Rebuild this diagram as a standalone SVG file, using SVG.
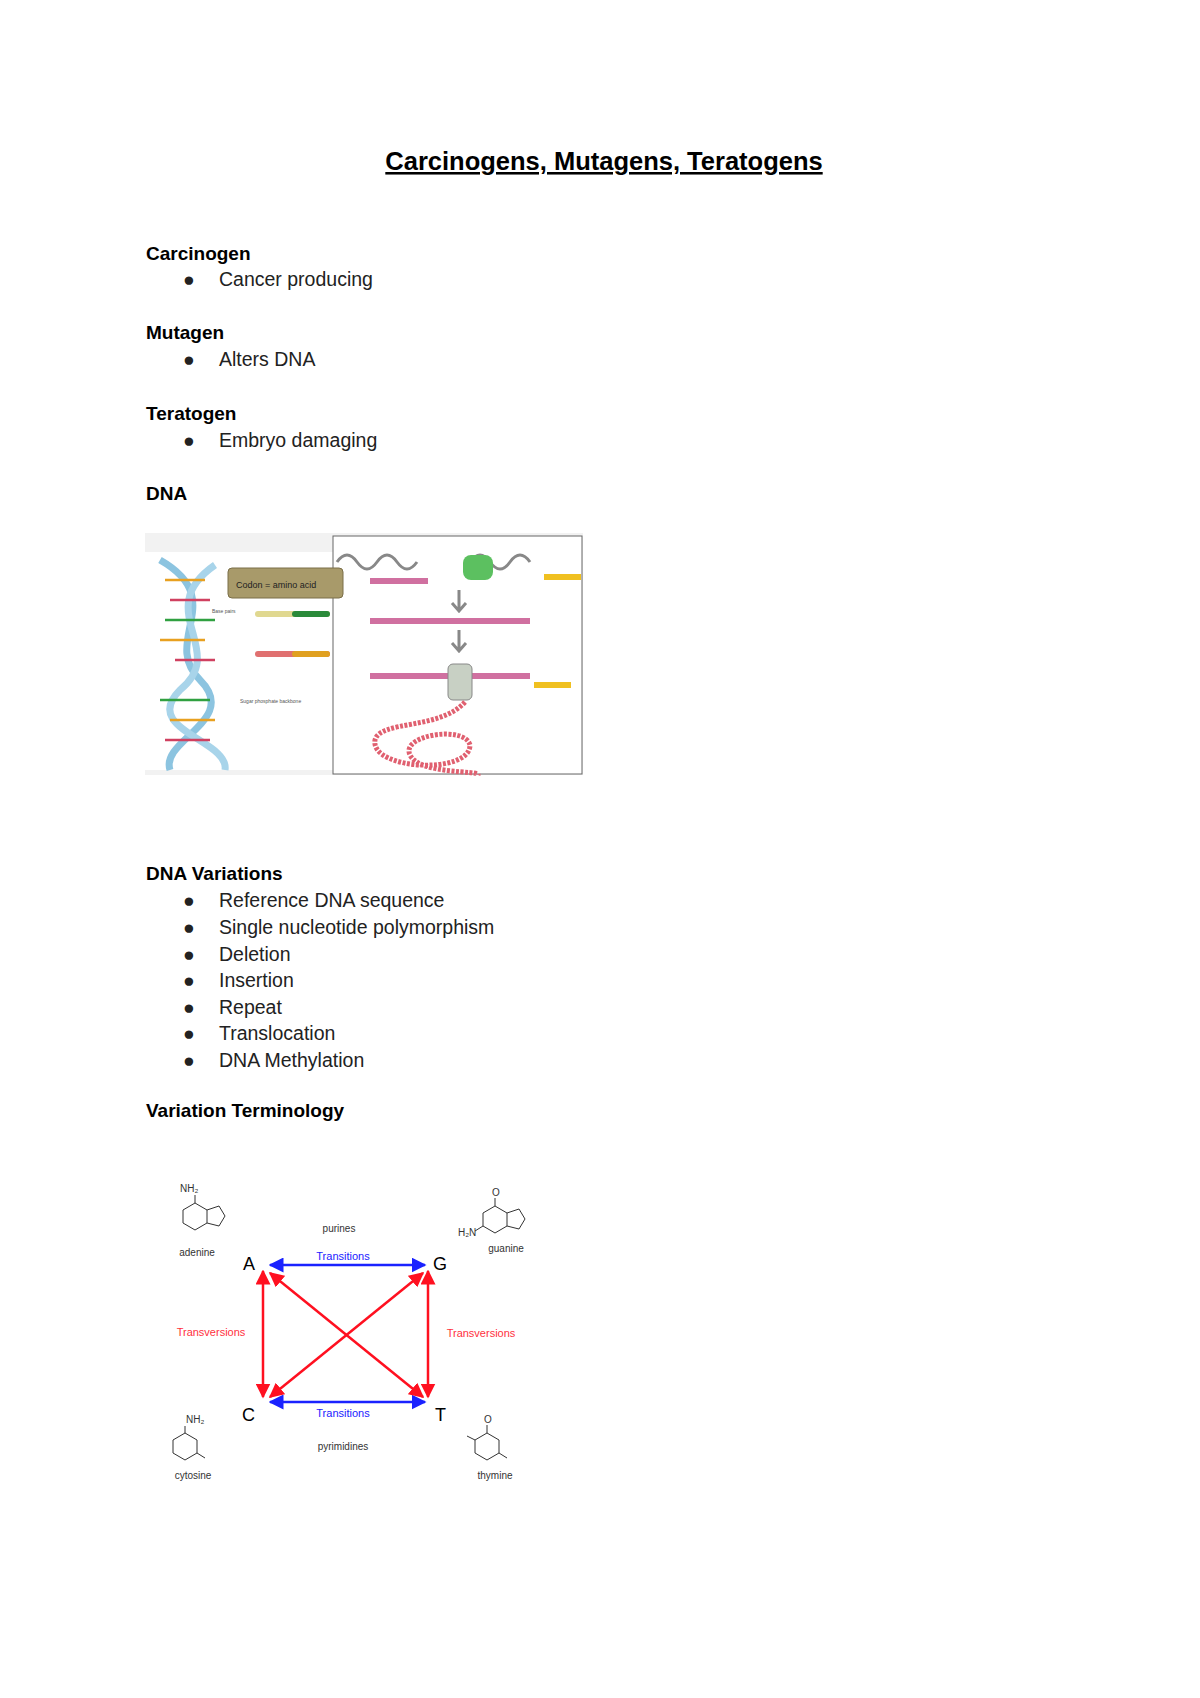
<svg xmlns="http://www.w3.org/2000/svg" width="1200" height="1698" viewBox="0 0 1200 1698">
<defs>
<style>
text{font-family:"Liberation Sans",Arial,sans-serif;fill:#000}
.h{font-weight:bold;font-size:19px}
.b{font-size:19.5px;fill:#222}
.s{font-size:10px;fill:#333}
.bl{stroke:#1a22ff;stroke-width:2.5;fill:none}
.rd{stroke:#ff1020;stroke-width:2.5;fill:none}
.tiny{font-size:5px;fill:#555}
</style>
<marker id="ab" viewBox="0 0 10 10" refX="9" refY="5" markerWidth="6" markerHeight="6" orient="auto-start-reverse"><path d="M0,0 L10,5 L0,10 z" fill="#1a22ff"/></marker>
<marker id="ar" viewBox="0 0 10 10" refX="9" refY="5" markerWidth="6" markerHeight="6" orient="auto-start-reverse"><path d="M0,0 L10,5 L0,10 z" fill="#ff1020"/></marker>
</defs>
<rect width="1200" height="1698" fill="#fff"/>
<text x="604" y="170" text-anchor="middle" style="font-weight:bold;font-size:25.5px;text-decoration:underline">Carcinogens, Mutagens, Teratogens</text>
<text class="h" x="146" y="260">Carcinogen</text>
<text class="b" x="183" y="286">●</text><text class="b" x="219" y="286">Cancer producing</text>
<text class="h" x="146" y="339">Mutagen</text>
<text class="b" x="183" y="366">●</text><text class="b" x="219" y="366">Alters DNA</text>
<text class="h" x="146" y="420">Teratogen</text>
<text class="b" x="183" y="447">●</text><text class="b" x="219" y="447">Embryo damaging</text>
<text class="h" x="146" y="500">DNA</text>
<g id="dna-image">
<rect x="145" y="533" width="438" height="242" fill="#f2f2f2"/>
<rect x="145" y="552" width="188" height="218" fill="#fff"/>
<rect x="333" y="536" width="249" height="238" fill="#fff" stroke="#666" stroke-width="1"/>
<path d="M160,560 C230,600 160,640 200,680 C240,720 160,740 170,770" stroke="#8cc4e0" stroke-width="7" fill="none"/>
<path d="M215,565 C150,610 230,650 180,690 C140,730 230,740 225,770" stroke="#a8d4ea" stroke-width="7" fill="none"/>
<g stroke-width="2.5"><line x1="165" y1="580" x2="205" y2="580" stroke="#e8a020"/><line x1="170" y1="600" x2="210" y2="600" stroke="#d04060"/><line x1="165" y1="620" x2="215" y2="620" stroke="#30a040"/><line x1="160" y1="640" x2="205" y2="640" stroke="#e8a020"/><line x1="175" y1="660" x2="215" y2="660" stroke="#d04060"/><line x1="160" y1="700" x2="210" y2="700" stroke="#30a040"/><line x1="170" y1="720" x2="215" y2="720" stroke="#e8a020"/><line x1="165" y1="740" x2="210" y2="740" stroke="#d04060"/></g>
<rect x="228" y="568" width="115" height="30" rx="4" fill="#a89a6a" stroke="#7a6e48"/>
<text x="236" y="588" style="font-size:9px;fill:#222">Codon = amino acid</text>
<rect x="255" y="611" width="75" height="6" rx="3" fill="#e0d890"/><rect x="292" y="611" width="38" height="6" rx="3" fill="#2a8a3a"/>
<rect x="255" y="651" width="75" height="6" rx="3" fill="#e07070"/><rect x="292" y="651" width="38" height="6" rx="3" fill="#e0a020"/>
<text class="tiny" x="212" y="613">Base pairs</text><text class="tiny" x="240" y="703">Sugar phosphate backbone</text>
<path d="M337,562 q10,-14 20,0 q10,14 20,0 q10,-14 20,0 q10,14 20,0 M470,562 q10,-14 20,0 q10,14 20,0 q10,-14 20,0" stroke="#888" stroke-width="3" fill="none"/>
<rect x="370" y="578" width="58" height="6" fill="#d070a0"/>
<rect x="463" y="555" width="30" height="25" rx="8" fill="#5cc060"/>
<rect x="370" y="618" width="160" height="6" fill="#d070a0"/>
<rect x="370" y="673" width="160" height="6" fill="#d070a0"/>
<path d="M459,590 v20 M452,603 l7,8 l7,-8 M459,630 v20 M452,643 l7,8 l7,-8" stroke="#888" stroke-width="3" fill="none"/>
<rect x="448" y="664" width="24" height="36" rx="5" fill="#c8d0c4" stroke="#888"/>
<path d="M465,702 C440,730 380,720 375,740 C370,770 470,775 470,745 C465,725 400,735 410,755 C420,775 480,770 478,775" stroke="#e06070" stroke-width="5" stroke-dasharray="3,1.5" fill="none"/>
<rect x="544" y="574" width="37" height="6" fill="#f0c020"/><rect x="534" y="682" width="37" height="6" fill="#f0c020"/>
</g>
<text class="h" x="146" y="880">DNA Variations</text>
<text class="b" x="183" y="907">●</text><text class="b" x="219" y="907">Reference DNA sequence</text>
<text class="b" x="183" y="934">●</text><text class="b" x="219" y="934">Single nucleotide polymorphism</text>
<text class="b" x="183" y="961">●</text><text class="b" x="219" y="961">Deletion</text>
<text class="b" x="183" y="987">●</text><text class="b" x="219" y="987">Insertion</text>
<text class="b" x="183" y="1014">●</text><text class="b" x="219" y="1014">Repeat</text>
<text class="b" x="183" y="1040">●</text><text class="b" x="219" y="1040">Translocation</text>
<text class="b" x="183" y="1067">●</text><text class="b" x="219" y="1067">DNA Methylation</text>
<text class="h" x="146" y="1117">Variation Terminology</text>
<g id="connectors">
<line class="bl" x1="270" y1="1265" x2="425" y2="1265" marker-start="url(#ab)" marker-end="url(#ab)"/>
<line class="bl" x1="270" y1="1402" x2="425" y2="1402" marker-start="url(#ab)" marker-end="url(#ab)"/>
<line class="rd" x1="263" y1="1271" x2="263" y2="1397" marker-start="url(#ar)" marker-end="url(#ar)"/>
<line class="rd" x1="428" y1="1271" x2="428" y2="1397" marker-start="url(#ar)" marker-end="url(#ar)"/>
<line class="rd" x1="270" y1="1273" x2="423" y2="1397" marker-start="url(#ar)" marker-end="url(#ar)"/>
<line class="rd" x1="423" y1="1273" x2="270" y2="1397" marker-start="url(#ar)" marker-end="url(#ar)"/>
</g>
<g id="labels">
<text x="243" y="1270" style="font-size:18px">A</text>
<text x="433" y="1270" style="font-size:18px">G</text>
<text x="242" y="1421" style="font-size:18px">C</text>
<text x="435" y="1421" style="font-size:18px">T</text>
<text x="339" y="1232" text-anchor="middle" class="s">purines</text>
<text x="343" y="1450" text-anchor="middle" class="s">pyrimidines</text>
<text x="343" y="1260" text-anchor="middle" style="font-size:11px;fill:#1a22ff">Transitions</text>
<text x="343" y="1417" text-anchor="middle" style="font-size:11px;fill:#1a22ff">Transitions</text>
<text x="211" y="1336" text-anchor="middle" style="font-size:11px;fill:#ff3040">Transversions</text>
<text x="481" y="1337" text-anchor="middle" style="font-size:11px;fill:#ff3040">Transversions</text>
<text x="197" y="1256" text-anchor="middle" class="s">adenine</text>
<text x="506" y="1252" text-anchor="middle" class="s">guanine</text>
<text x="193" y="1479" text-anchor="middle" class="s">cytosine</text>
<text x="495" y="1479" text-anchor="middle" class="s">thymine</text>
</g>
<g id="molecules" stroke="#333" stroke-width="1" fill="none">
<path d="M183,1210 l12,-7 l12,7 v13 l-12,7 l-12,-7 z M207,1210 l12,-4 l6,10 l-6,10 l-12,-3 M195,1203 v-8"/>
<text x="180" y="1192" class="s" stroke="none">NH₂</text>
<path d="M483,1213 l12,-7 l12,7 v13 l-12,7 l-12,-7 z M507,1213 l12,-4 l6,10 l-6,10 l-12,-3 M495,1206 v-8 M483,1226 l-8,5"/>
<text x="492" y="1196" class="s" stroke="none">O</text><text x="458" y="1236" class="s" stroke="none">H₂N</text>
<path d="M173,1440 l12,-7 l12,7 v13 l-12,7 l-12,-7 z M185,1433 v-7 M197,1453 l8,5"/>
<text x="186" y="1423" class="s" stroke="none">NH₂</text>
<path d="M475,1440 l12,-7 l12,7 v13 l-12,7 l-12,-7 z M487,1433 v-8 M499,1453 l8,5 M475,1440 l-8,-4"/>
<text x="484" y="1423" class="s" stroke="none">O</text>
</g>
</svg>
